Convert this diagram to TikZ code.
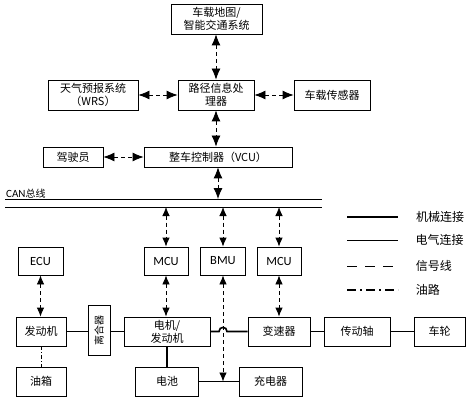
\documentclass[tikz,border=0pt]{standalone}
\usepackage{fontspec}
\setmainfont{Noto Sans CJK SC}
\newfontfamily\latinfont{Carlito}
\usetikzlibrary{arrows.meta,positioning,calc}

\begin{document}
\begin{tikzpicture}[x=1pt,y=-1pt,
    box/.style={draw,line width=0.8pt,align=center,inner sep=1pt,
                minimum height=29pt,font=\fontsize{11}{13}\selectfont},
    ubox/.style={box,font=\latinfont\fontsize{12.5}{14}\selectfont,minimum height=28pt},
    mech/.style={line width=1.6pt},
    elec/.style={line width=0.8pt},
    sig/.style={line width=0.8pt,dash pattern=on 4pt off 3pt},
    oil/.style={line width=0.8pt,dash pattern=on 4pt off 2pt on 1pt off 2pt},
    bigarr/.style={sig,{Latex[length=11pt,width=9pt]}-{Latex[length=11pt,width=9pt]}},
    smallarr/.style={sig,{Latex[length=9pt,width=7.5pt]}-{Latex[length=9pt,width=7.5pt]}},
    legtext/.style={anchor=west,font=\fontsize{12}{14}\selectfont}]

   \useasboundingbox (0,0) rectangle (474,401);

   % upper part: information and control
   \node[box,minimum width=91pt,minimum height=30pt] (map)    at (216.5,19) {车载地图/\\智能交通系统};
   \node[box,minimum width=76pt,minimum height=30pt] (route)  at (216,95)   {路径信息处\\理器};
   \node[box,minimum width=90pt,minimum height=30pt] (wrs)    at (93,95)    {天气预报系统\\（WRS）};
   \node[box,minimum width=76pt,minimum height=30pt] (sensor) at (332,95)   {车载传感器};
   \node[box,minimum width=60pt,minimum height=20pt] (driver) at (73,157)   {驾驶员};
   \node[box,minimum width=148pt,minimum height=20pt] (vcu)   at (218,157)  {整车控制器（VCU）};

   \draw[bigarr] (map.south -| route.north) -- (route.north);
   \draw[bigarr] (wrs.east) -- (route.west);
   \draw[bigarr] (route.east) -- (sensor.west);
   \draw[bigarr] (route.south) -- (route.south |- vcu.north);
   \draw[bigarr] (driver.east) -- (vcu.west);

   % the CAN bus
   \coordinate (canup)  at (5,199);
   \coordinate (canupr) at (322,199);
   \coordinate (canlo)  at (5,207);
   \coordinate (canlor) at (322,207);
   \draw[line width=1pt] (canup) -- (canupr);
   \draw[line width=1pt] (canlo) -- (canlor);
   \node[anchor=south west,inner sep=1pt,font=\fontsize{10}{12}\selectfont] (canlab) at (canup) {{\latinfont\fontsize{11}{12}\selectfont CAN}总线};
   \draw[bigarr] (vcu.south) -- (vcu.south |- canup);

   % control units
   \node[ubox,minimum width=45pt] (ecu)  at (40.5,261) {ECU};
   \node[ubox,minimum width=44pt] (mcua) at (166,261)  {MCU};
   \node[ubox,minimum width=45pt] (bmu)  at (223,261)  {BMU};
   \node[ubox,minimum width=44pt] (mcub) at (279,261)  {MCU};

   \draw[smallarr] (mcua.north |- canlo) -- (mcua.north);
   \draw[smallarr] (bmu.north |- canlo) -- (bmu.north);
   \draw[smallarr] (mcub.north |- canlo) -- (mcub.north);

   % drive train
   \node[box,minimum width=50pt] (engine)  at (41,331.5)  {发动机};
   \node[box,minimum width=22pt,minimum height=50pt] (clutch) at (99,330) {};
   \node[rotate=90,inner sep=0pt,font=\fontsize{10}{12}\selectfont] (clutchlab) at (clutch.center) {离合器};
   \node[box,minimum width=86pt] (motor)   at (167,331.5) {电机/\\发动机};
   \node[box,minimum width=62pt] (gearbox) at (279,331.5) {变速器};
   \node[box,minimum width=66pt] (shaft)   at (357,331.5) {传动轴};
   \node[box,minimum width=51pt] (wheel)   at (439.5,331.5) {车轮};
   \node[box,minimum width=50pt] (tank)    at (41,381.5)  {油箱};
   \node[box,minimum width=63pt] (battery) at (167,381.5) {电池};
   \node[box,minimum width=63pt] (charger) at (270.5,381.5) {充电器};

   \coordinate (hop) at (bmu.south |- motor.east);
   \draw[mech] (engine.east) -- (clutch.west |- engine.east);
   \draw[mech] (clutch.east |- motor.west) -- (motor.west);
   \draw[mech] (motor.east) -- ($(hop)+(-4,0)$)
        .. controls +(0,-5.5) and +(0,-5.5) .. ($(hop)+(4,0)$) -- (gearbox.west);
   \draw[mech] (gearbox.east) -- (shaft.west);
   \draw[mech] (shaft.east) -- (wheel.west);
   \draw[mech] (motor.south) -- (battery.north);
   \draw[elec] (battery.east) -- (charger.west);
   \draw[oil]  (engine.south) -- (tank.north);

   \draw[smallarr] (ecu.south) -- (ecu.south |- engine.north);
   \draw[smallarr] (mcua.south) -- (mcua.south |- motor.north);
   \draw[smallarr] (mcub.south) -- (gearbox.north);
   \draw[smallarr] (bmu.south) -- (bmu.south |- battery.east);

   % legend
   \coordinate (lega) at (347,217);
   \coordinate (legb) at (347,240);
   \coordinate (legc) at (347,266);
   \coordinate (legd) at (347,290);
   \draw[mech] (lega) -- ++(51,0) node[legtext,xshift=14pt] (legmech) {机械连接};
   \draw[elec] (legb) -- ++(51,0) node[legtext,xshift=14pt] (legelec) {电气连接};
   \draw[line width=1pt,dash pattern=on 10pt off 8pt] (legc) -- ++(51,0) node[legtext,xshift=14pt] (legsig)  {信号线};
   \draw[line width=1.2pt,dash pattern=on 9pt off 4pt on 2pt off 4pt] (legd) -- ++(51,0) node[legtext,xshift=14pt] (legoil)  {油路};
\end{tikzpicture}
\end{document}
